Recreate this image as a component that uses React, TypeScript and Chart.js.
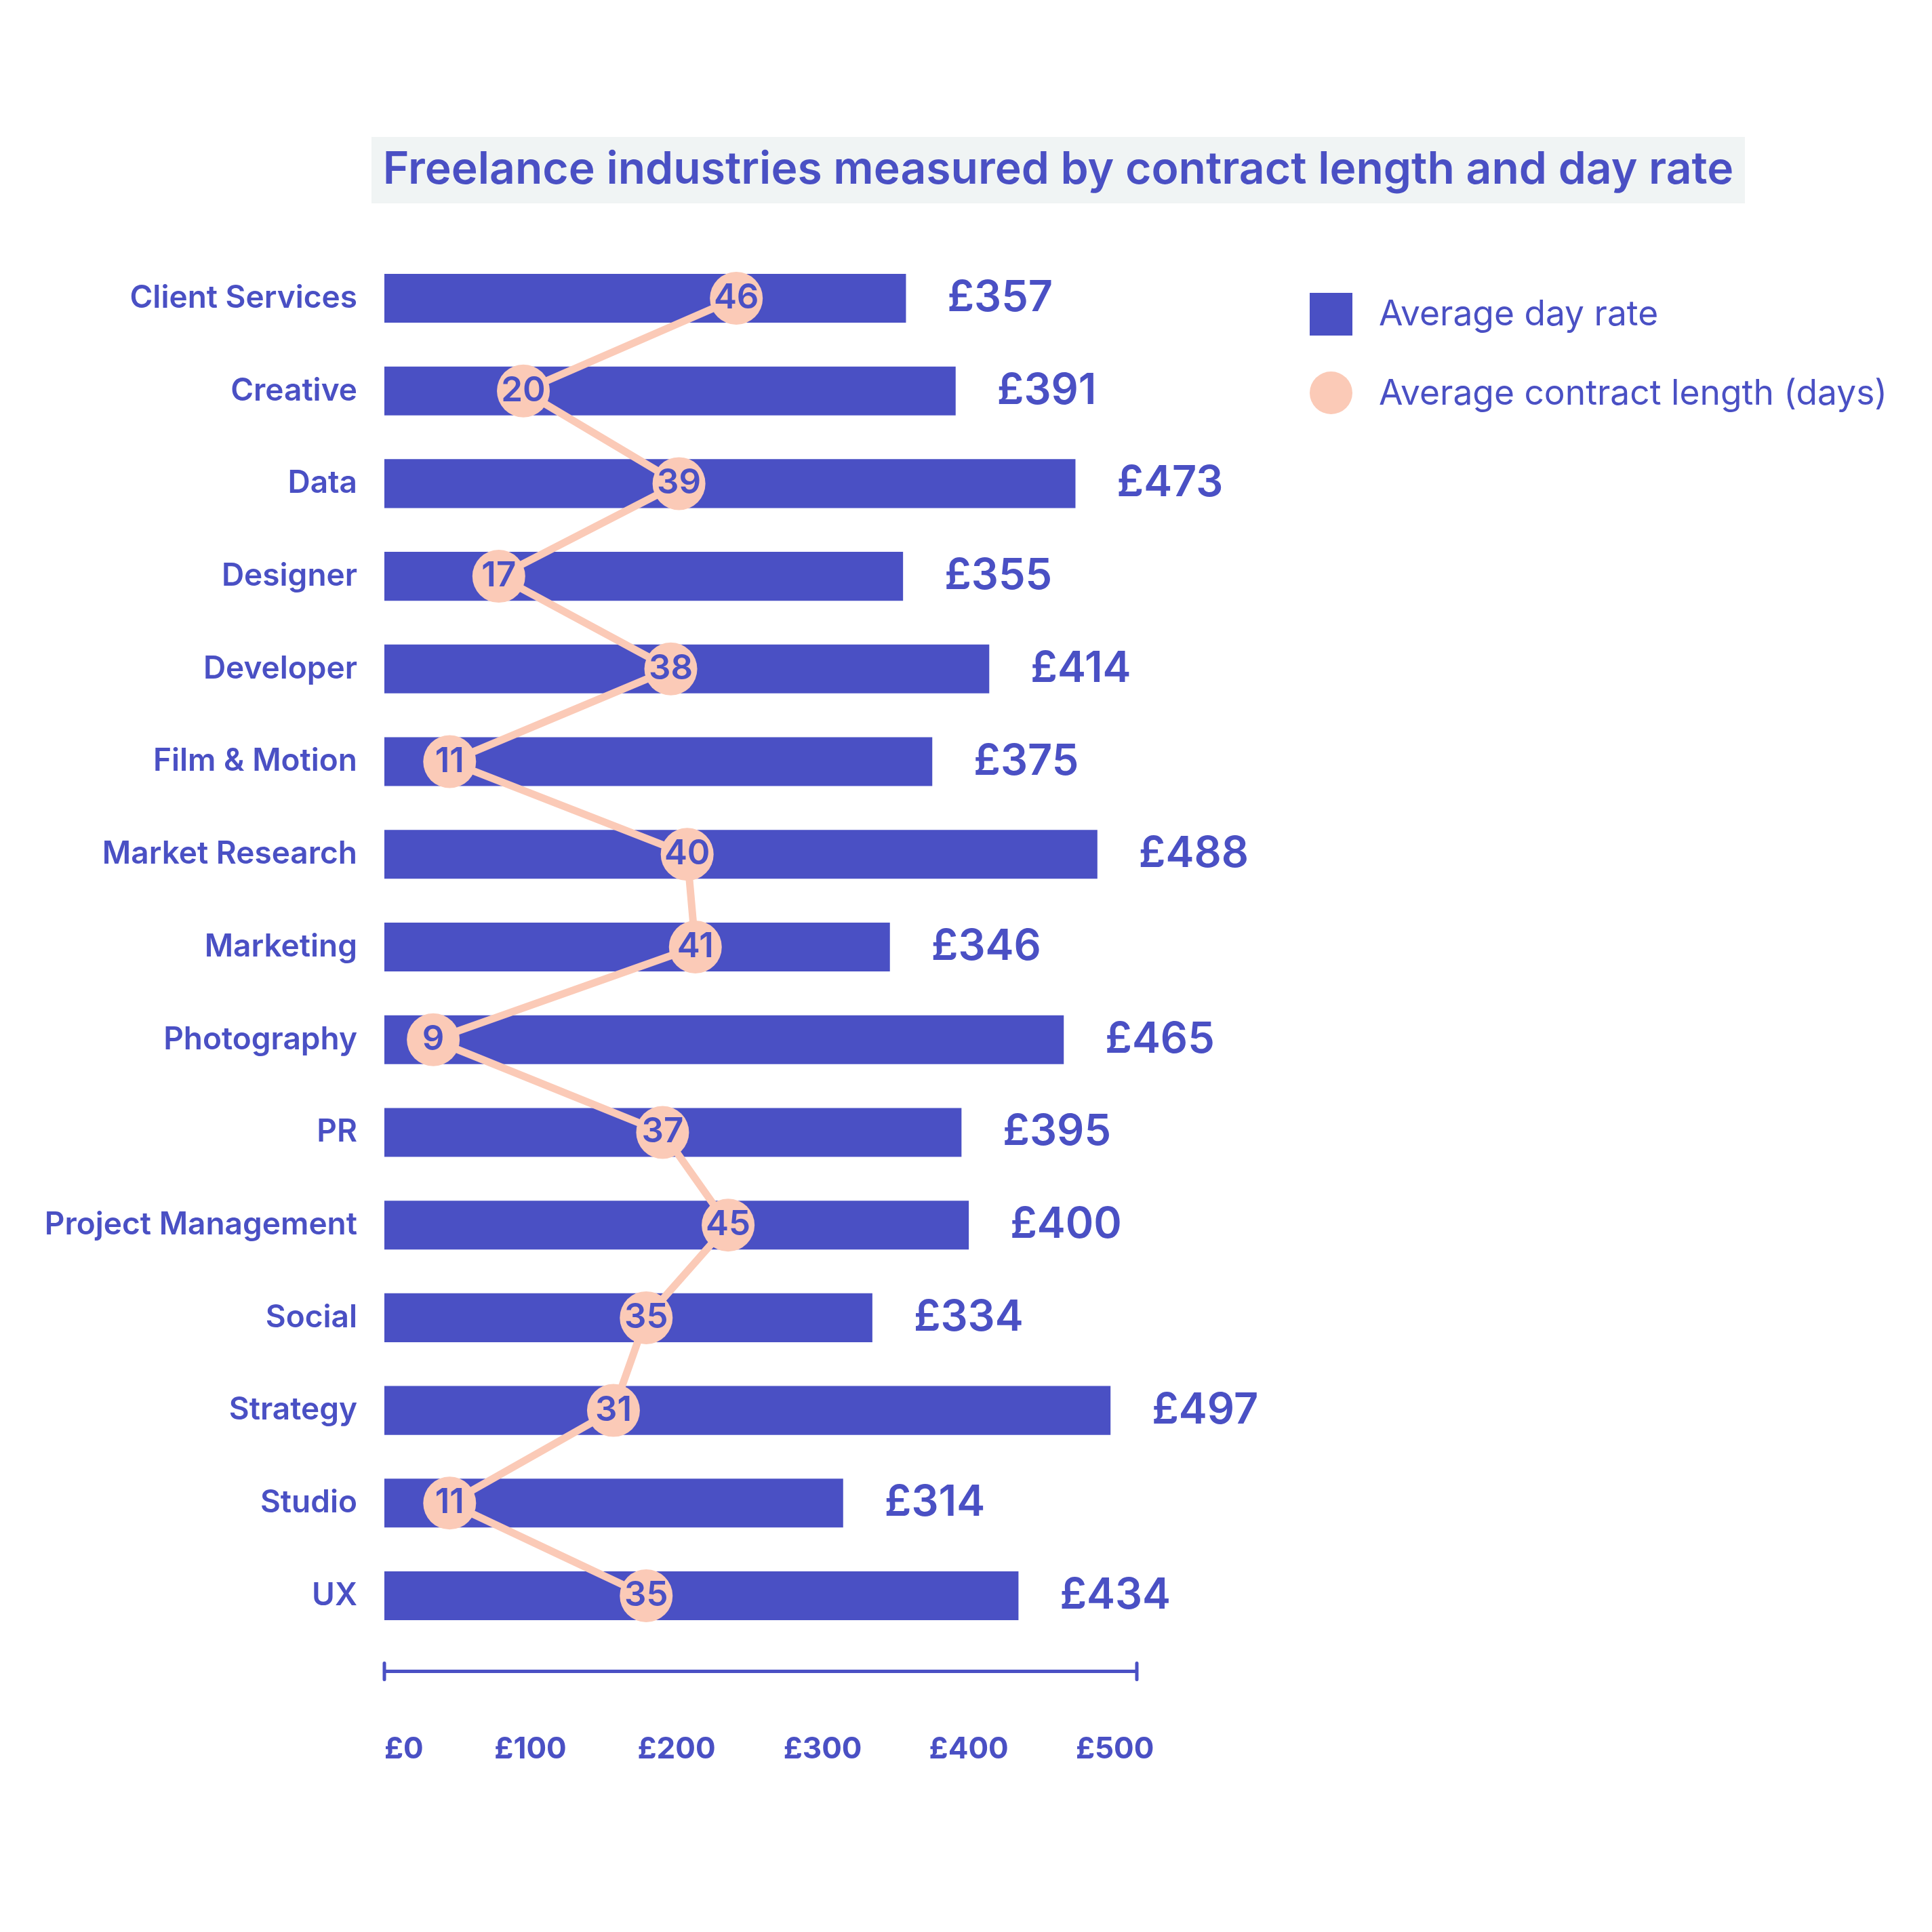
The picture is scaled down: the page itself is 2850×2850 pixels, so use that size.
import React, { useEffect, useRef } from 'react';
import { Chart, registerables } from 'chart.js';

Chart.register(...registerables);

// data
const industries = [
  'Client Services', 'Creative', 'Data', 'Designer', 'Developer', 'Film & Motion',
  'Market Research', 'Marketing', 'Photography', 'PR', 'Project Management',
  'Social', 'Strategy', 'Studio', 'UX',
];
const dayRates = [357, 391, 473, 355, 414, 375, 488, 346, 465, 395, 400, 334, 497, 314, 434];
const contractDays = [46, 20, 39, 17, 38, 11, 40, 41, 9, 37, 45, 35, 31, 11, 35];
const rateTicks = [0, 100, 200, 300, 400, 500];
const rateMax = 515;
const daysMin = 3.03;
const daysMax = 94.9;

const title = 'Freelance industries measured by contract length and day rate';
const rateLabel = 'Average day rate';
const daysLabel = 'Average contract length (days)';

const BLUE = '#4a50c4';
const PEACH = '#fbcab7';
const FONT = 'Inter';

const decorPlugin = {
  id: 'decor',
  beforeDraw(chart) {
    const ctx = chart.ctx;
    ctx.save();
    // title box
    ctx.fillStyle = '#f0f4f4';
    ctx.fillRect(548, 202, 2026, 98);
    ctx.fillStyle = BLUE;
    ctx.font = `600 66px ${FONT}`;
    ctx.textAlign = 'center';
    ctx.textBaseline = 'alphabetic';
    ctx.fillText(title, 1561, 271);
    ctx.restore();
  },
  afterDatasetsDraw(chart) {
    const ctx = chart.ctx;
    ctx.save();
    ctx.fillStyle = BLUE;
    ctx.textBaseline = 'alphabetic';

    // £ labels after each bar
    const bars = chart.getDatasetMeta(0).data;
    ctx.font = `600 63px ${FONT}`;
    ctx.textAlign = 'left';
    bars.forEach((bar, i) => {
      ctx.fillText('£' + dayRates[i], bar.x + 61, bar.y + 19);
    });

    // numbers inside the circles
    const pts = chart.getDatasetMeta(1).data;
    ctx.font = `600 51px ${FONT}`;
    ctx.textAlign = 'center';
    pts.forEach((p, i) => {
      ctx.fillText(String(contractDays[i]), p.x, p.y + 15);
    });
    ctx.restore();
  },
  afterDraw(chart) {
    const ctx = chart.ctx;
    const x = chart.scales.x;
    ctx.save();
    // axis line with end caps
    const y = 2465.5;
    const x0 = x.getPixelForValue(0);
    const x1 = x.getPixelForValue(rateMax);
    ctx.strokeStyle = BLUE;
    ctx.lineWidth = 5;
    ctx.lineCap = 'round';
    ctx.beginPath();
    ctx.moveTo(x0, y);
    ctx.lineTo(x1, y);
    ctx.moveTo(x0, y - 12);
    ctx.lineTo(x0, y + 12);
    ctx.moveTo(x1, y - 12);
    ctx.lineTo(x1, y + 12);
    ctx.stroke();

    // legend
    ctx.fillStyle = BLUE;
    ctx.fillRect(1932, 432, 63, 63);
    ctx.fillStyle = PEACH;
    ctx.beginPath();
    ctx.arc(1963.5, 579.5, 31.5, 0, Math.PI * 2);
    ctx.fill();
    ctx.fillStyle = BLUE;
    ctx.font = `400 51.5px ${FONT}`;
    ctx.textAlign = 'left';
    ctx.textBaseline = 'alphabetic';
    ctx.fillText(rateLabel, 2034, 480);
    ctx.fillText(daysLabel, 2034, 597);
    ctx.restore();
  },
};

export default function App() {
  const canvasRef = useRef(null);

  useEffect(() => {
    const chart = new Chart(canvasRef.current, {
      type: 'bar',
      data: {
        labels: industries,
        datasets: [
          {
            label: rateLabel,
            data: dayRates,
            backgroundColor: BLUE,
            borderWidth: 0,
            barPercentage: 0.527,
            categoryPercentage: 1,
            xAxisID: 'x',
            yAxisID: 'y',
            order: 1,
          },
          {
            type: 'line',
            label: daysLabel,
            data: contractDays,
            indexAxis: 'y',
            xAxisID: 'x2',
            yAxisID: 'y',
            borderColor: PEACH,
            borderWidth: 11,
            pointRadius: 39,
            pointBackgroundColor: PEACH,
            pointBorderWidth: 0,
            pointHoverRadius: 39,
            tension: 0,
            clip: false,
            order: 0,
          },
        ],
      },
      options: {
        indexAxis: 'y',
        responsive: false,
        animation: false,
        devicePixelRatio: 1,
        layout: { padding: { left: 0, right: 1173, top: 371.6, bottom: 227.6 } },
        plugins: {
          legend: { display: false },
          tooltip: { enabled: false },
          title: { display: false },
        },
        scales: {
          x: {
            type: 'linear',
            axis: 'x',
            position: 'bottom',
            min: 0,
            max: rateMax,
            grid: { display: false, drawTicks: false },
            border: { display: false },
            afterBuildTicks: (scale) => {
              scale.ticks = [...rateTicks, rateMax].map((v) => ({ value: v }));
            },
            afterFit: (scale) => {
              scale.height = 200;
            },
            ticks: {
              align: 'inner',
              padding: 132,
              color: BLUE,
              font: { family: FONT, size: 44, weight: '700' },
              callback: (v) => (rateTicks.includes(v) ? '£' + v : ''),
            },
          },
          x2: {
            type: 'linear',
            axis: 'x',
            position: 'top',
            display: false,
            min: daysMin,
            max: daysMax,
          },
          y: {
            type: 'category',
            axis: 'y',
            offset: true,
            grid: { display: false, drawTicks: false },
            border: { display: false },
            afterFit: (scale) => {
              scale.width = 567;
            },
            ticks: {
              padding: 40,
              color: BLUE,
              font: { family: FONT, size: 46, weight: '600' },
            },
          },
        },
      },
      plugins: [decorPlugin],
    });
    return () => chart.destroy();
  }, []);

  return (
    <div style={{ position: 'absolute', left: 0, top: 0, width: 2850, height: 2850, background: '#fff' }}>
      <canvas ref={canvasRef} width={2850} height={2850} style={{ display: 'block' }} />
    </div>
  );
}
